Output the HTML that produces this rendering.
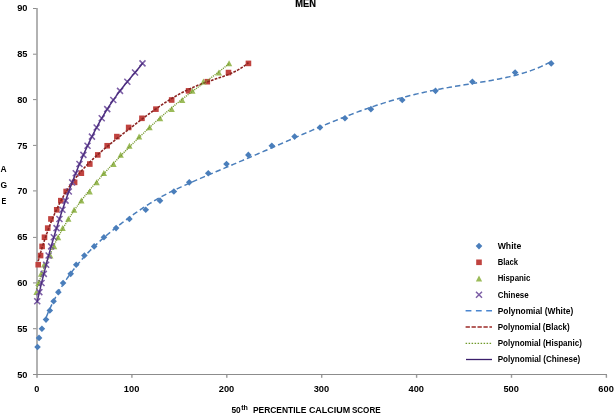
<!DOCTYPE html>
<html><head><meta charset="utf-8"><title>MEN</title>
<style>html,body{margin:0;padding:0;background:#fff}svg{display:block}text{font-family:"Liberation Sans",sans-serif;font-weight:bold;font-size:8.7px;fill:#000}</style></head><body>
<svg width="614" height="414" viewBox="0 0 614 414">
<rect width="614" height="414" fill="#fff"/>
<rect x="36" y="8" width="2" height="369.8" fill="#b2b2b2"/>
<g stroke="#8c8c8c" stroke-width="1" fill="none" shape-rendering="crispEdges">
<path d="M33,374.5 H607"/>
</g>
<rect x="33" y="328.2" width="3.5" height="1" fill="#8c8c8c"/>
<rect x="33" y="282.4" width="3.5" height="1" fill="#8c8c8c"/>
<rect x="33" y="236.9" width="3.5" height="1" fill="#8c8c8c"/>
<rect x="33" y="190.4" width="3.5" height="1" fill="#8c8c8c"/>
<rect x="33" y="144.9" width="3.5" height="1" fill="#8c8c8c"/>
<rect x="33" y="99.1" width="3.5" height="1" fill="#8c8c8c"/>
<rect x="33" y="53.7" width="3.5" height="1" fill="#8c8c8c"/>
<rect x="33" y="8.0" width="3.5" height="1" fill="#8c8c8c"/>
<rect x="131.2" y="375" width="1.4" height="2.8" fill="#9a9a9a"/>
<rect x="226.1" y="375" width="1.4" height="2.8" fill="#9a9a9a"/>
<rect x="321.0" y="375" width="1.4" height="2.8" fill="#9a9a9a"/>
<rect x="415.9" y="375" width="1.4" height="2.8" fill="#9a9a9a"/>
<rect x="510.8" y="375" width="1.4" height="2.8" fill="#9a9a9a"/>
<rect x="605.7" y="375" width="1.4" height="2.8" fill="#9a9a9a"/>
<text x="27.5" y="377.55" text-anchor="end" textLength="10.3" lengthAdjust="spacingAndGlyphs" style="font-size:9.1px">50</text>
<text x="27.5" y="331.75" text-anchor="end" textLength="10.3" lengthAdjust="spacingAndGlyphs" style="font-size:9.1px">55</text>
<text x="27.5" y="285.95" text-anchor="end" textLength="10.3" lengthAdjust="spacingAndGlyphs" style="font-size:9.1px">60</text>
<text x="27.5" y="240.15" text-anchor="end" textLength="10.3" lengthAdjust="spacingAndGlyphs" style="font-size:9.1px">65</text>
<text x="27.5" y="194.35" text-anchor="end" textLength="10.3" lengthAdjust="spacingAndGlyphs" style="font-size:9.1px">70</text>
<text x="27.5" y="148.55" text-anchor="end" textLength="10.3" lengthAdjust="spacingAndGlyphs" style="font-size:9.1px">75</text>
<text x="27.5" y="102.75" text-anchor="end" textLength="10.3" lengthAdjust="spacingAndGlyphs" style="font-size:9.1px">80</text>
<text x="27.5" y="56.95" text-anchor="end" textLength="10.3" lengthAdjust="spacingAndGlyphs" style="font-size:9.1px">85</text>
<text x="27.5" y="11.15" text-anchor="end" textLength="10.3" lengthAdjust="spacingAndGlyphs" style="font-size:9.1px">90</text>
<text x="36.7" y="391.5" text-anchor="middle" textLength="5.1" lengthAdjust="spacingAndGlyphs" style="font-size:9.2px">0</text>
<text x="131.6" y="391.5" text-anchor="middle" textLength="15.5" lengthAdjust="spacingAndGlyphs" style="font-size:9.2px">100</text>
<text x="226.5" y="391.5" text-anchor="middle" textLength="15.5" lengthAdjust="spacingAndGlyphs" style="font-size:9.2px">200</text>
<text x="321.4" y="391.5" text-anchor="middle" textLength="15.5" lengthAdjust="spacingAndGlyphs" style="font-size:9.2px">300</text>
<text x="416.3" y="391.5" text-anchor="middle" textLength="15.5" lengthAdjust="spacingAndGlyphs" style="font-size:9.2px">400</text>
<text x="511.2" y="391.5" text-anchor="middle" textLength="15.5" lengthAdjust="spacingAndGlyphs" style="font-size:9.2px">500</text>
<text x="606.1" y="391.5" text-anchor="middle" textLength="15.5" lengthAdjust="spacingAndGlyphs" style="font-size:9.2px">600</text>
<text x="295.2" y="6.9" textLength="20.7" lengthAdjust="spacingAndGlyphs" style="font-size:10.4px;stroke:#000;stroke-width:0.2px">MEN</text>
<text x="0.6" y="172.2" textLength="6.1" lengthAdjust="spacingAndGlyphs" style="font-size:9.9px">A</text>
<text x="0.6" y="187.8" textLength="6.6" lengthAdjust="spacingAndGlyphs" style="font-size:9.9px">G</text>
<text x="1.5" y="203.5" textLength="4.8" lengthAdjust="spacingAndGlyphs" style="font-size:9.9px">E</text>
<text y="413.1" style="font-size:8.6px"><tspan x="231.4" textLength="9.3" lengthAdjust="spacingAndGlyphs">50</tspan><tspan x="241.2" dy="-3" textLength="6.7" lengthAdjust="spacingAndGlyphs" style="font-size:6.3px">th</tspan><tspan x="252.9" dy="3" textLength="53.4" lengthAdjust="spacingAndGlyphs">PERCENTILE</tspan><tspan x="308.9" textLength="41.2" lengthAdjust="spacingAndGlyphs">CALCIUM</tspan><tspan x="351.9" textLength="28.7" lengthAdjust="spacingAndGlyphs">SCORE</tspan></text>
<g fill="#4a7ebb">
<path d="M37.55,343.75 L40.84,347.05 L37.55,350.35 L34.25,347.05Z"/>
<path d="M39.06,334.60 L42.36,337.90 L39.06,341.20 L35.77,337.90Z"/>
<path d="M41.91,325.45 L45.21,328.75 L41.91,332.05 L38.62,328.75Z"/>
<path d="M46.00,316.30 L49.30,319.60 L46.00,322.90 L42.70,319.60Z"/>
<path d="M49.80,307.15 L53.10,310.45 L49.80,313.75 L46.50,310.45Z"/>
<path d="M53.60,298.00 L56.90,301.30 L53.60,304.60 L50.30,301.30Z"/>
<path d="M58.35,288.85 L61.65,292.15 L58.35,295.45 L55.05,292.15Z"/>
<path d="M63.10,279.70 L66.40,283.00 L63.10,286.30 L59.80,283.00Z"/>
<path d="M70.70,270.55 L74.00,273.85 L70.70,277.15 L67.40,273.85Z"/>
<path d="M76.21,261.40 L79.51,264.70 L76.21,268.00 L72.91,264.70Z"/>
<path d="M84.38,252.25 L87.68,255.55 L84.38,258.85 L81.08,255.55Z"/>
<path d="M94.16,243.10 L97.46,246.40 L94.16,249.70 L90.86,246.40Z"/>
<path d="M103.95,233.95 L107.25,237.25 L103.95,240.55 L100.65,237.25Z"/>
<path d="M116.11,224.80 L119.41,228.10 L116.11,231.40 L112.81,228.10Z"/>
<path d="M129.41,215.65 L132.71,218.95 L129.41,222.25 L126.11,218.95Z"/>
<path d="M145.75,206.50 L149.05,209.80 L145.75,213.10 L142.45,209.80Z"/>
<path d="M160.00,197.35 L163.30,200.65 L160.00,203.95 L156.70,200.65Z"/>
<path d="M173.87,188.20 L177.17,191.50 L173.87,194.80 L170.57,191.50Z"/>
<path d="M189.26,179.05 L192.56,182.35 L189.26,185.65 L185.96,182.35Z"/>
<path d="M208.26,169.90 L211.56,173.20 L208.26,176.50 L204.96,173.20Z"/>
<path d="M226.50,160.75 L229.80,164.05 L226.50,167.35 L223.20,164.05Z"/>
<path d="M248.35,151.60 L251.65,154.90 L248.35,158.20 L245.05,154.90Z"/>
<path d="M271.81,142.45 L275.11,145.75 L271.81,149.05 L268.51,145.75Z"/>
<path d="M294.61,133.30 L297.91,136.60 L294.61,139.90 L291.31,136.60Z"/>
<path d="M319.98,124.15 L323.28,127.45 L319.98,130.75 L316.68,127.45Z"/>
<path d="M344.96,115.00 L348.26,118.30 L344.96,121.60 L341.66,118.30Z"/>
<path d="M370.90,105.85 L374.20,109.15 L370.90,112.45 L367.60,109.15Z"/>
<path d="M402.25,96.70 L405.55,100.00 L402.25,103.30 L398.95,100.00Z"/>
<path d="M435.50,87.55 L438.80,90.85 L435.50,94.15 L432.20,90.85Z"/>
<path d="M472.36,78.40 L475.66,81.70 L472.36,85.00 L469.06,81.70Z"/>
<path d="M515.11,69.25 L518.41,72.55 L515.11,75.85 L511.81,72.55Z"/>
<path d="M551.21,60.10 L554.51,63.40 L551.21,66.70 L547.91,63.40Z"/>
</g>
<g fill="#c0433f">
<rect x="35.41" y="261.90" width="5.6" height="5.6"/>
<rect x="37.79" y="252.75" width="5.6" height="5.6"/>
<rect x="39.31" y="243.60" width="5.6" height="5.6"/>
<rect x="41.68" y="234.45" width="5.6" height="5.6"/>
<rect x="44.91" y="225.30" width="5.6" height="5.6"/>
<rect x="48.14" y="216.15" width="5.6" height="5.6"/>
<rect x="53.94" y="207.00" width="5.6" height="5.6"/>
<rect x="58.02" y="197.85" width="5.6" height="5.6"/>
<rect x="63.34" y="188.70" width="5.6" height="5.6"/>
<rect x="71.80" y="179.55" width="5.6" height="5.6"/>
<rect x="78.54" y="170.40" width="5.6" height="5.6"/>
<rect x="87.00" y="161.25" width="5.6" height="5.6"/>
<rect x="94.98" y="152.10" width="5.6" height="5.6"/>
<rect x="104.38" y="142.95" width="5.6" height="5.6"/>
<rect x="114.07" y="133.80" width="5.6" height="5.6"/>
<rect x="125.85" y="124.65" width="5.6" height="5.6"/>
<rect x="139.15" y="115.50" width="5.6" height="5.6"/>
<rect x="153.11" y="106.35" width="5.6" height="5.6"/>
<rect x="168.88" y="97.20" width="5.6" height="5.6"/>
<rect x="185.79" y="88.05" width="5.6" height="5.6"/>
<rect x="204.51" y="78.90" width="5.6" height="5.6"/>
<rect x="225.69" y="69.75" width="5.6" height="5.6"/>
<rect x="245.64" y="60.60" width="5.6" height="5.6"/>
</g>
<g fill="#9bbb59">
<path d="M36.50,289.05 L39.65,295.05 L33.35,295.05Z"/>
<path d="M38.40,279.90 L41.55,285.90 L35.25,285.90Z"/>
<path d="M41.06,270.75 L44.21,276.75 L37.91,276.75Z"/>
<path d="M44.10,261.60 L47.25,267.60 L40.95,267.60Z"/>
<path d="M50.27,252.45 L53.42,258.45 L47.12,258.45Z"/>
<path d="M54.17,243.30 L57.32,249.30 L51.02,249.30Z"/>
<path d="M58.06,234.15 L61.21,240.15 L54.91,240.15Z"/>
<path d="M62.62,225.00 L65.78,231.00 L59.48,231.00Z"/>
<path d="M68.33,215.85 L71.48,221.85 L65.17,221.85Z"/>
<path d="M74.12,206.70 L77.27,212.70 L70.97,212.70Z"/>
<path d="M81.34,197.55 L84.49,203.55 L78.19,203.55Z"/>
<path d="M89.70,188.40 L92.85,194.40 L86.55,194.40Z"/>
<path d="M96.63,179.25 L99.78,185.25 L93.48,185.25Z"/>
<path d="M103.86,170.10 L107.01,176.10 L100.70,176.10Z"/>
<path d="M113.54,160.95 L116.69,166.95 L110.39,166.95Z"/>
<path d="M120.67,151.80 L123.82,157.80 L117.52,157.80Z"/>
<path d="M129.41,142.65 L132.56,148.65 L126.26,148.65Z"/>
<path d="M139.10,133.50 L142.25,139.50 L135.95,139.50Z"/>
<path d="M149.55,124.35 L152.70,130.35 L146.40,130.35Z"/>
<path d="M160.09,115.20 L163.24,121.20 L156.94,121.20Z"/>
<path d="M171.69,106.05 L174.84,112.05 L168.53,112.05Z"/>
<path d="M182.23,96.90 L185.38,102.90 L179.08,102.90Z"/>
<path d="M192.39,87.75 L195.54,93.75 L189.24,93.75Z"/>
<path d="M203.41,78.60 L206.56,84.60 L200.26,84.60Z"/>
<path d="M218.90,69.45 L222.05,75.45 L215.75,75.45Z"/>
<path d="M229.06,60.30 L232.21,66.30 L225.91,66.30Z"/>
</g>
<g stroke="#7d5fa6" stroke-width="1.5" fill="none">
<path d="M34.25,298.30 L40.25,304.30 M34.25,304.30 L40.25,298.30"/>
<path d="M36.34,289.15 L42.34,295.15 M36.34,295.15 L42.34,289.15"/>
<path d="M38.52,280.00 L44.52,286.00 M38.52,286.00 L44.52,280.00"/>
<path d="M40.80,270.85 L46.80,276.85 M40.80,276.85 L46.80,270.85"/>
<path d="M43.15,261.70 L49.15,267.70 M43.15,267.70 L49.15,261.70"/>
<path d="M45.63,252.55 L51.63,258.55 M45.63,258.55 L51.63,252.55"/>
<path d="M48.17,243.40 L54.17,249.40 M48.17,249.40 L54.17,243.40"/>
<path d="M50.81,234.25 L56.81,240.25 M50.81,240.25 L56.81,234.25"/>
<path d="M53.58,225.10 L59.58,231.10 M53.58,231.10 L59.58,225.10"/>
<path d="M56.45,215.95 L62.45,221.95 M56.45,221.95 L62.45,215.95"/>
<path d="M59.43,206.80 L65.43,212.80 M59.43,212.80 L65.43,206.80"/>
<path d="M62.56,197.65 L68.56,203.65 M62.56,203.65 L68.56,197.65"/>
<path d="M65.82,188.50 L71.82,194.50 M65.82,194.50 L71.82,188.50"/>
<path d="M69.19,179.35 L75.19,185.35 M69.19,185.35 L75.19,179.35"/>
<path d="M72.76,170.20 L78.76,176.20 M72.76,176.20 L78.76,170.20"/>
<path d="M76.47,161.05 L82.47,167.05 M76.47,167.05 L82.47,161.05"/>
<path d="M80.41,151.90 L86.41,157.90 M80.41,157.90 L86.41,151.90"/>
<path d="M84.53,142.75 L90.53,148.75 M84.53,148.75 L90.53,142.75"/>
<path d="M88.94,133.60 L94.94,139.60 M88.94,139.60 L94.94,133.60"/>
<path d="M93.65,124.45 L99.65,130.45 M93.65,130.45 L99.65,124.45"/>
<path d="M98.73,115.30 L104.73,121.30 M98.73,121.30 L104.73,115.30"/>
<path d="M104.25,106.15 L110.25,112.15 M104.25,112.15 L110.25,106.15"/>
<path d="M110.30,97.00 L116.30,103.00 M110.30,103.00 L116.30,97.00"/>
<path d="M117.02,87.85 L123.02,93.85 M117.02,93.85 L123.02,87.85"/>
<path d="M124.33,78.70 L130.33,84.70 M124.33,84.70 L130.33,78.70"/>
<path d="M132.03,69.55 L138.03,75.55 M132.03,75.55 L138.03,69.55"/>
<path d="M139.50,60.40 L145.50,66.40 M139.50,66.40 L145.50,60.40"/>
</g>
<path d="M46.26,317.14 L46.53,316.47 L46.81,315.80 L47.08,315.12 L47.37,314.44 L47.65,313.76 L47.94,313.08 L48.24,312.40 L48.54,311.71 L48.84,311.02 L49.15,310.33 L49.46,309.63 L49.78,308.94 L50.10,308.24 L50.42,307.54 L50.75,306.84 L51.08,306.14 L51.42,305.43 L51.76,304.73 L52.10,304.02 L52.45,303.31 L52.80,302.60 L53.16,301.89 L53.52,301.18 L53.89,300.47 L54.25,299.76 L54.63,299.04 L55.01,298.33 L55.39,297.61 L55.77,296.90 L56.16,296.18 L56.56,295.46 L56.95,294.74 L57.36,294.02 L57.76,293.30 L58.17,292.58 L58.59,291.86 L59.01,291.14 L59.43,290.42 L59.86,289.70 L60.29,288.98 L60.72,288.26 L61.16,287.54 L61.61,286.82 L62.05,286.10 L62.51,285.38 L62.96,284.66 L63.42,283.93 L63.89,283.21 L64.35,282.49 L64.83,281.78 L65.30,281.06 L65.78,280.34 L66.27,279.62 L66.76,278.90 L67.25,278.18 L67.75,277.47 L68.25,276.75 L68.75,276.04 L69.26,275.32 L69.78,274.61 L70.30,273.89 L70.82,273.18 L71.34,272.47 L71.87,271.76 L72.41,271.05 L72.95,270.34 L73.49,269.63 L74.04,268.92 L74.59,268.22 L75.14,267.51 L75.70,266.81 L76.26,266.11 L76.83,265.41 L77.40,264.70 L77.98,264.01 L78.56,263.31 L79.14,262.61 L79.73,261.91 L80.32,261.22 L80.92,260.53 L81.52,259.84 L82.12,259.15 L82.73,258.46 L83.34,257.77 L83.96,257.08 L84.58,256.40 L85.21,255.71 L85.84,255.03 L86.47,254.35 L87.11,253.67 L87.75,252.99 L88.39,252.32 L89.04,251.64 L89.70,250.97 L90.36,250.30 L91.02,249.63 L91.68,248.96 L92.35,248.29 L93.03,247.63 L93.71,246.96 L94.39,246.30 L95.08,245.64 L95.77,244.98 L96.46,244.33 L97.16,243.67 L97.87,243.02 L98.57,242.36 L99.29,241.71 L100.00,241.07 L100.72,240.42 L101.45,239.77 L102.17,239.13 L102.91,238.49 L103.64,237.85 L104.38,237.21 L105.13,236.57 L105.88,235.93 L106.63,235.29 L107.39,234.65 L108.15,234.01 L108.91,233.37 L109.68,232.74 L110.46,232.10 L111.23,231.46 L112.02,230.82 L112.80,230.18 L113.59,229.55 L114.39,228.91 L115.18,228.27 L115.99,227.63 L116.79,226.99 L117.60,226.35 L118.42,225.71 L119.24,225.07 L120.06,224.43 L120.89,223.79 L121.72,223.15 L122.56,222.51 L123.39,221.87 L124.24,221.23 L125.09,220.59 L125.94,219.95 L126.79,219.32 L127.65,218.68 L128.52,218.04 L129.39,217.40 L130.26,216.76 L131.14,216.12 L132.02,215.49 L132.90,214.85 L133.79,214.22 L134.69,213.58 L135.58,212.95 L136.48,212.32 L137.39,211.69 L138.30,211.06 L139.21,210.43 L140.13,209.81 L141.05,209.19 L141.98,208.57 L142.91,207.95 L143.84,207.33 L144.78,206.72 L145.73,206.10 L146.67,205.50 L147.62,204.89 L148.58,204.29 L149.54,203.69 L150.50,203.09 L151.47,202.49 L152.44,201.90 L153.42,201.32 L154.40,200.73 L155.38,200.15 L156.37,199.58 L157.36,199.00 L158.36,198.43 L159.36,197.87 L160.36,197.31 L161.37,196.75 L162.38,196.20 L163.40,195.65 L164.42,195.10 L165.45,194.56 L166.48,194.02 L167.51,193.48 L168.55,192.95 L169.59,192.43 L170.64,191.90 L171.69,191.38 L172.74,190.87 L173.80,190.35 L174.86,189.84 L175.93,189.34 L177.00,188.83 L178.07,188.33 L179.15,187.83 L180.23,187.33 L181.32,186.83 L182.41,186.34 L183.51,185.84 L184.61,185.34 L185.71,184.84 L186.82,184.35 L187.93,183.85 L189.05,183.36 L190.17,182.86 L191.29,182.36 L192.42,181.87 L193.55,181.37 L194.69,180.87 L195.83,180.37 L196.97,179.87 L198.12,179.38 L199.28,178.88 L200.43,178.38 L201.60,177.88 L202.76,177.37 L203.93,176.87 L205.10,176.37 L206.28,175.86 L207.46,175.36 L208.65,174.85 L209.84,174.34 L211.04,173.84 L212.23,173.33 L213.44,172.81 L214.64,172.30 L215.85,171.79 L217.07,171.27 L218.29,170.75 L219.51,170.24 L220.74,169.71 L221.97,169.19 L223.21,168.67 L224.45,168.14 L225.69,167.62 L226.94,167.09 L228.19,166.55 L229.45,166.02 L230.71,165.49 L231.97,164.95 L233.24,164.41 L234.51,163.87 L235.79,163.32 L237.07,162.78 L238.36,162.23 L239.65,161.68 L240.94,161.13 L242.24,160.57 L243.54,160.02 L244.84,159.46 L246.15,158.90 L247.47,158.33 L248.79,157.77 L250.11,157.20 L251.44,156.63 L252.77,156.06 L254.10,155.48 L255.44,154.90 L256.78,154.32 L258.13,153.74 L259.48,153.16 L260.84,152.57 L262.20,151.98 L263.56,151.39 L264.93,150.80 L266.30,150.20 L267.67,149.60 L269.05,149.00 L270.44,148.40 L271.83,147.79 L273.22,147.19 L274.62,146.58 L276.02,145.97 L277.42,145.35 L278.83,144.74 L280.24,144.12 L281.66,143.50 L283.08,142.88 L284.51,142.26 L285.94,141.63 L287.37,141.01 L288.81,140.38 L290.25,139.75 L291.70,139.12 L293.15,138.49 L294.60,137.86 L296.06,137.22 L297.52,136.59 L298.99,135.95 L300.46,135.31 L301.93,134.67 L303.41,134.03 L304.90,133.39 L306.38,132.75 L307.88,132.11 L309.37,131.47 L310.87,130.83 L312.38,130.18 L313.88,129.54 L315.40,128.90 L316.91,128.25 L318.43,127.61 L319.96,126.97 L321.49,126.32 L323.02,125.68 L324.55,125.04 L326.10,124.40 L327.64,123.76 L329.19,123.12 L330.74,122.48 L332.30,121.85 L333.86,121.21 L335.43,120.58 L337.00,119.95 L338.57,119.31 L340.15,118.69 L341.73,118.06 L343.32,117.43 L344.91,116.81 L346.50,116.19 L348.10,115.57 L349.71,114.96 L351.31,114.34 L352.92,113.73 L354.54,113.13 L356.16,112.52 L357.78,111.92 L359.41,111.33 L361.04,110.73 L362.68,110.14 L364.32,109.56 L365.96,108.98 L367.61,108.40 L369.26,107.82 L370.92,107.25 L372.58,106.69 L374.24,106.13 L375.91,105.57 L377.59,105.02 L379.26,104.47 L380.94,103.93 L382.63,103.40 L384.32,102.87 L386.01,102.34 L387.71,101.82 L389.41,101.30 L391.12,100.80 L392.83,100.29 L394.54,99.79 L396.26,99.30 L397.98,98.82 L399.71,98.34 L401.44,97.86 L403.18,97.39 L404.92,96.93 L406.66,96.47 L408.41,96.02 L410.16,95.58 L411.91,95.14 L413.67,94.71 L415.44,94.29 L417.20,93.87 L418.98,93.45 L420.75,93.05 L422.53,92.65 L424.32,92.25 L426.11,91.86 L427.90,91.48 L429.69,91.10 L431.50,90.73 L433.30,90.36 L435.11,90.00 L436.92,89.65 L438.74,89.30 L440.56,88.95 L442.39,88.61 L444.22,88.27 L446.05,87.94 L447.89,87.62 L449.73,87.29 L451.58,86.97 L453.43,86.66 L455.28,86.34 L457.14,86.03 L459.00,85.72 L460.87,85.42 L462.74,85.11 L464.62,84.81 L466.50,84.50 L468.38,84.20 L470.27,83.90 L472.16,83.60 L474.06,83.29 L475.96,82.99 L477.86,82.68 L479.77,82.37 L481.68,82.05 L483.60,81.73 L485.52,81.41 L487.44,81.08 L489.37,80.75 L491.30,80.41 L493.24,80.06 L495.18,79.70 L497.13,79.33 L499.08,78.95 L501.03,78.56 L502.99,78.16 L504.95,77.74 L506.92,77.31 L508.89,76.87 L510.86,76.41 L512.84,75.93 L514.82,75.43 L516.81,74.91 L518.80,74.37 L520.79,73.80 L522.79,73.22 L524.79,72.60 L526.80,71.96 L528.81,71.29 L530.83,70.59 L532.85,69.86 L534.87,69.10 L536.90,68.30 L538.93,67.46 L540.97,66.58 L543.01,65.66 L545.05,64.70 L547.10,63.70 L549.15,62.65 L551.21,61.55" fill="none" stroke="#4a7ebb" stroke-width="1.5" stroke-dasharray="5.4 3.1"/>
<path d="M38.21,260.97 L38.21,260.97 L38.21,260.96 L38.22,260.95 L38.22,260.93 L38.23,260.90 L38.24,260.86 L38.25,260.83 L38.26,260.78 L38.28,260.73 L38.29,260.67 L38.31,260.61 L38.33,260.54 L38.35,260.46 L38.38,260.38 L38.40,260.29 L38.43,260.19 L38.45,260.09 L38.48,259.99 L38.51,259.88 L38.55,259.76 L38.58,259.63 L38.62,259.50 L38.66,259.37 L38.70,259.22 L38.74,259.08 L38.78,258.92 L38.83,258.76 L38.87,258.60 L38.92,258.43 L38.97,258.25 L39.02,258.07 L39.07,257.88 L39.13,257.69 L39.19,257.49 L39.24,257.28 L39.30,257.07 L39.37,256.86 L39.43,256.63 L39.49,256.41 L39.56,256.17 L39.63,255.94 L39.70,255.69 L39.77,255.44 L39.84,255.19 L39.92,254.93 L40.00,254.67 L40.08,254.40 L40.16,254.12 L40.24,253.84 L40.32,253.56 L40.41,253.27 L40.49,252.97 L40.58,252.67 L40.67,252.37 L40.76,252.06 L40.86,251.74 L40.95,251.42 L41.05,251.10 L41.15,250.77 L41.25,250.43 L41.35,250.10 L41.46,249.75 L41.56,249.41 L41.67,249.05 L41.78,248.70 L41.89,248.34 L42.00,247.97 L42.11,247.60 L42.23,247.23 L42.35,246.85 L42.47,246.47 L42.59,246.09 L42.71,245.70 L42.83,245.30 L42.96,244.91 L43.09,244.50 L43.22,244.10 L43.35,243.69 L43.48,243.28 L43.61,242.86 L43.75,242.44 L43.89,242.02 L44.03,241.59 L44.17,241.16 L44.31,240.73 L44.45,240.29 L44.60,239.85 L44.75,239.41 L44.90,238.96 L45.05,238.52 L45.20,238.06 L45.36,237.61 L45.51,237.15 L45.67,236.69 L45.83,236.23 L45.99,235.76 L46.15,235.29 L46.32,234.82 L46.49,234.35 L46.65,233.87 L46.82,233.39 L46.99,232.91 L47.17,232.43 L47.34,231.94 L47.52,231.45 L47.70,230.96 L47.88,230.47 L48.06,229.98 L48.24,229.48 L48.43,228.98 L48.61,228.48 L48.80,227.98 L48.99,227.48 L49.18,226.97 L49.38,226.47 L49.57,225.96 L49.77,225.45 L49.97,224.94 L50.17,224.43 L50.37,223.91 L50.57,223.40 L50.78,222.88 L50.98,222.37 L51.19,221.85 L51.40,221.33 L51.61,220.81 L51.83,220.29 L52.04,219.77 L52.26,219.24 L52.48,218.72 L52.70,218.20 L52.92,217.67 L53.15,217.15 L53.37,216.62 L53.60,216.09 L53.83,215.57 L54.06,215.04 L54.29,214.51 L54.52,213.99 L54.76,213.46 L55.00,212.93 L55.23,212.40 L55.48,211.87 L55.72,211.35 L55.96,210.82 L56.21,210.29 L56.45,209.76 L56.70,209.23 L56.95,208.70 L57.21,208.18 L57.46,207.65 L57.72,207.12 L57.97,206.60 L58.23,206.07 L58.49,205.54 L58.76,205.02 L59.02,204.50 L59.29,203.97 L59.56,203.45 L59.82,202.92 L60.10,202.40 L60.37,201.88 L60.64,201.36 L60.92,200.84 L61.20,200.32 L61.48,199.80 L61.76,199.29 L62.04,198.77 L62.32,198.25 L62.61,197.74 L62.90,197.23 L63.19,196.71 L63.48,196.20 L63.77,195.69 L64.07,195.18 L64.36,194.67 L64.66,194.17 L64.96,193.66 L65.26,193.16 L65.57,192.65 L65.87,192.15 L66.18,191.65 L66.49,191.15 L66.80,190.65 L67.11,190.16 L67.42,189.66 L67.73,189.17 L68.05,188.68 L68.37,188.19 L68.69,187.70 L69.01,187.21 L69.33,186.72 L69.66,186.23 L69.99,185.75 L70.32,185.27 L70.65,184.79 L70.98,184.31 L71.31,183.83 L71.65,183.35 L71.98,182.88 L72.32,182.41 L72.66,181.93 L73.00,181.46 L73.35,180.99 L73.69,180.53 L74.04,180.06 L74.39,179.60 L74.74,179.13 L75.09,178.67 L75.44,178.21 L75.80,177.75 L76.16,177.30 L76.52,176.84 L76.88,176.39 L77.24,175.94 L77.60,175.48 L77.97,175.04 L78.34,174.59 L78.70,174.14 L79.07,173.70 L79.45,173.25 L79.82,172.81 L80.20,172.37 L80.57,171.93 L80.95,171.49 L81.33,171.06 L81.72,170.62 L82.10,170.19 L82.49,169.75 L82.87,169.32 L83.26,168.89 L83.65,168.46 L84.05,168.04 L84.44,167.61 L84.84,167.18 L85.23,166.76 L85.63,166.34 L86.04,165.91 L86.44,165.49 L86.84,165.07 L87.25,164.66 L87.66,164.24 L88.07,163.82 L88.48,163.41 L88.89,162.99 L89.30,162.58 L89.72,162.17 L90.14,161.75 L90.56,161.34 L90.98,160.93 L91.40,160.52 L91.83,160.11 L92.25,159.71 L92.68,159.30 L93.11,158.89 L93.54,158.49 L93.98,158.08 L94.41,157.68 L94.85,157.27 L95.29,156.87 L95.73,156.47 L96.17,156.06 L96.61,155.66 L97.06,155.26 L97.50,154.86 L97.95,154.46 L98.40,154.06 L98.85,153.66 L99.31,153.26 L99.76,152.86 L100.22,152.46 L100.68,152.06 L101.14,151.66 L101.60,151.26 L102.06,150.86 L102.53,150.46 L102.99,150.06 L103.46,149.66 L103.93,149.26 L104.40,148.86 L104.88,148.46 L105.35,148.06 L105.83,147.66 L106.31,147.26 L106.79,146.86 L107.27,146.45 L107.76,146.05 L108.24,145.65 L108.73,145.25 L109.22,144.85 L109.71,144.44 L110.20,144.04 L110.69,143.64 L111.19,143.23 L111.69,142.83 L112.19,142.42 L112.69,142.02 L113.19,141.61 L113.69,141.20 L114.20,140.79 L114.71,140.38 L115.21,139.98 L115.73,139.57 L116.24,139.15 L116.75,138.74 L117.27,138.33 L117.79,137.92 L118.30,137.50 L118.83,137.09 L119.35,136.67 L119.87,136.26 L120.40,135.84 L120.93,135.42 L121.46,135.00 L121.99,134.59 L122.52,134.16 L123.05,133.74 L123.59,133.32 L124.13,132.90 L124.67,132.47 L125.21,132.05 L125.75,131.62 L126.30,131.20 L126.84,130.77 L127.39,130.34 L127.94,129.91 L128.49,129.48 L129.04,129.05 L129.60,128.62 L130.16,128.18 L130.71,127.75 L131.27,127.32 L131.84,126.88 L132.40,126.44 L132.96,126.01 L133.53,125.57 L134.10,125.13 L134.67,124.69 L135.24,124.25 L135.81,123.81 L136.39,123.37 L136.96,122.93 L137.54,122.48 L138.12,122.04 L138.70,121.60 L139.29,121.15 L139.87,120.71 L140.46,120.26 L141.05,119.81 L141.64,119.37 L142.23,118.92 L142.82,118.47 L143.42,118.02 L144.02,117.58 L144.61,117.13 L145.21,116.68 L145.82,116.23 L146.42,115.78 L147.03,115.33 L147.63,114.88 L148.24,114.43 L148.85,113.99 L149.46,113.54 L150.08,113.09 L150.69,112.64 L151.31,112.19 L151.93,111.74 L152.55,111.30 L153.17,110.85 L153.80,110.40 L154.42,109.96 L155.05,109.51 L155.68,109.07 L156.31,108.62 L156.94,108.18 L157.58,107.74 L158.21,107.29 L158.85,106.85 L159.49,106.41 L160.13,105.98 L160.77,105.54 L161.42,105.10 L162.06,104.67 L162.71,104.23 L163.36,103.80 L164.01,103.37 L164.66,102.94 L165.32,102.51 L165.97,102.09 L166.63,101.66 L167.29,101.24 L167.95,100.82 L168.61,100.40 L169.28,99.99 L169.94,99.57 L170.61,99.16 L171.28,98.75 L171.95,98.34 L172.63,97.94 L173.30,97.54 L173.98,97.14 L174.65,96.74 L175.33,96.34 L176.02,95.95 L176.70,95.56 L177.38,95.17 L178.07,94.79 L178.76,94.41 L179.45,94.03 L180.14,93.65 L180.83,93.28 L181.53,92.91 L182.22,92.54 L182.92,92.18 L183.62,91.82 L184.32,91.46 L185.03,91.11 L185.73,90.76 L186.44,90.41 L187.15,90.06 L187.86,89.72 L188.57,89.39 L189.28,89.05 L190.00,88.72 L190.71,88.39 L191.43,88.07 L192.15,87.75 L192.87,87.43 L193.60,87.11 L194.32,86.80 L195.05,86.50 L195.78,86.19 L196.51,85.89 L197.24,85.59 L197.98,85.30 L198.71,85.00 L199.45,84.71 L200.19,84.43 L200.93,84.14 L201.67,83.86 L202.41,83.58 L203.16,83.31 L203.91,83.03 L204.65,82.76 L205.41,82.49 L206.16,82.22 L206.91,81.96 L207.67,81.69 L208.42,81.43 L209.18,81.17 L209.94,80.91 L210.71,80.65 L211.47,80.39 L212.24,80.14 L213.00,79.88 L213.77,79.62 L214.54,79.36 L215.32,79.11 L216.09,78.85 L216.87,78.59 L217.64,78.33 L218.42,78.06 L219.20,77.80 L219.99,77.53 L220.77,77.26 L221.56,76.99 L222.35,76.71 L223.14,76.43 L223.93,76.15 L224.72,75.86 L225.51,75.56 L226.31,75.26 L227.11,74.96 L227.91,74.64 L228.71,74.32 L229.51,73.99 L230.32,73.65 L231.12,73.31 L231.93,72.95 L232.74,72.58 L233.55,72.21 L234.36,71.82 L235.18,71.42 L236.00,71.00 L236.81,70.57 L237.63,70.13 L238.46,69.67 L239.28,69.19 L240.10,68.70 L240.93,68.19 L241.76,67.66 L242.59,67.11 L243.42,66.54 L244.25,65.94 L245.09,65.33 L245.92,64.69 L246.76,64.02 L247.60,63.33 L248.44,62.61" fill="none" stroke="#8b2321" stroke-width="1.6" stroke-dasharray="2.7 1.3"/>
<path d="M36.50,289.11 L36.50,289.11 L36.50,289.10 L36.51,289.09 L36.51,289.07 L36.52,289.05 L36.53,289.03 L36.54,289.00 L36.55,288.96 L36.56,288.92 L36.58,288.88 L36.59,288.83 L36.61,288.78 L36.63,288.72 L36.65,288.66 L36.67,288.59 L36.70,288.52 L36.72,288.44 L36.75,288.36 L36.78,288.27 L36.81,288.18 L36.84,288.09 L36.87,287.99 L36.91,287.88 L36.95,287.77 L36.98,287.66 L37.02,287.54 L37.06,287.42 L37.11,287.29 L37.15,287.16 L37.20,287.03 L37.24,286.89 L37.29,286.74 L37.34,286.59 L37.39,286.44 L37.45,286.28 L37.50,286.12 L37.56,285.95 L37.62,285.78 L37.68,285.60 L37.74,285.43 L37.80,285.24 L37.86,285.05 L37.93,284.86 L38.00,284.66 L38.07,284.46 L38.14,284.26 L38.21,284.05 L38.28,283.84 L38.36,283.62 L38.43,283.40 L38.51,283.17 L38.59,282.94 L38.67,282.71 L38.76,282.47 L38.84,282.23 L38.93,281.98 L39.01,281.73 L39.10,281.48 L39.19,281.22 L39.28,280.96 L39.38,280.69 L39.47,280.43 L39.57,280.15 L39.67,279.88 L39.77,279.60 L39.87,279.31 L39.97,279.02 L40.08,278.73 L40.18,278.44 L40.29,278.14 L40.40,277.84 L40.51,277.53 L40.62,277.22 L40.73,276.91 L40.85,276.59 L40.97,276.27 L41.09,275.95 L41.21,275.63 L41.33,275.30 L41.45,274.96 L41.57,274.63 L41.70,274.29 L41.83,273.95 L41.96,273.60 L42.09,273.25 L42.22,272.90 L42.35,272.54 L42.49,272.19 L42.63,271.83 L42.76,271.46 L42.90,271.10 L43.05,270.73 L43.19,270.35 L43.33,269.98 L43.48,269.60 L43.63,269.22 L43.78,268.83 L43.93,268.45 L44.08,268.06 L44.23,267.67 L44.39,267.27 L44.55,266.88 L44.70,266.48 L44.86,266.08 L45.03,265.67 L45.19,265.26 L45.35,264.86 L45.52,264.44 L45.69,264.03 L45.86,263.61 L46.03,263.20 L46.20,262.78 L46.37,262.35 L46.55,261.93 L46.73,261.50 L46.91,261.07 L47.09,260.64 L47.27,260.21 L47.45,259.77 L47.64,259.33 L47.82,258.90 L48.01,258.46 L48.20,258.01 L48.39,257.57 L48.58,257.12 L48.78,256.67 L48.97,256.22 L49.17,255.77 L49.37,255.32 L49.57,254.86 L49.77,254.41 L49.97,253.95 L50.18,253.49 L50.39,253.03 L50.59,252.57 L50.80,252.11 L51.02,251.64 L51.23,251.17 L51.44,250.71 L51.66,250.24 L51.87,249.77 L52.09,249.30 L52.31,248.82 L52.54,248.35 L52.76,247.87 L52.98,247.40 L53.21,246.92 L53.44,246.44 L53.67,245.96 L53.90,245.48 L54.13,245.00 L54.37,244.52 L54.60,244.04 L54.84,243.55 L55.08,243.07 L55.32,242.58 L55.56,242.10 L55.81,241.61 L56.05,241.12 L56.30,240.64 L56.55,240.15 L56.80,239.66 L57.05,239.17 L57.30,238.68 L57.55,238.18 L57.81,237.69 L58.07,237.20 L58.33,236.71 L58.59,236.21 L58.85,235.72 L59.11,235.22 L59.38,234.73 L59.65,234.23 L59.91,233.74 L60.18,233.24 L60.46,232.75 L60.73,232.25 L61.00,231.75 L61.28,231.26 L61.56,230.76 L61.84,230.26 L62.12,229.76 L62.40,229.26 L62.68,228.77 L62.97,228.27 L63.25,227.77 L63.54,227.27 L63.83,226.77 L64.12,226.27 L64.42,225.77 L64.71,225.27 L65.01,224.77 L65.31,224.27 L65.61,223.78 L65.91,223.28 L66.21,222.78 L66.51,222.28 L66.82,221.78 L67.13,221.28 L67.43,220.78 L67.74,220.28 L68.06,219.78 L68.37,219.28 L68.68,218.78 L69.00,218.28 L69.32,217.79 L69.64,217.29 L69.96,216.79 L70.28,216.29 L70.60,215.79 L70.93,215.29 L71.26,214.80 L71.59,214.30 L71.92,213.80 L72.25,213.30 L72.58,212.80 L72.92,212.31 L73.25,211.81 L73.59,211.31 L73.93,210.82 L74.27,210.32 L74.61,209.82 L74.96,209.33 L75.30,208.83 L75.65,208.33 L76.00,207.84 L76.35,207.34 L76.70,206.85 L77.06,206.35 L77.41,205.86 L77.77,205.36 L78.12,204.87 L78.48,204.37 L78.85,203.88 L79.21,203.38 L79.57,202.89 L79.94,202.40 L80.31,201.90 L80.67,201.41 L81.04,200.91 L81.42,200.42 L81.79,199.93 L82.17,199.43 L82.54,198.94 L82.92,198.45 L83.30,197.96 L83.68,197.46 L84.06,196.97 L84.45,196.48 L84.83,195.98 L85.22,195.49 L85.61,195.00 L86.00,194.51 L86.39,194.01 L86.79,193.52 L87.18,193.03 L87.58,192.54 L87.98,192.04 L88.38,191.55 L88.78,191.06 L89.18,190.57 L89.59,190.07 L89.99,189.58 L90.40,189.09 L90.81,188.59 L91.22,188.10 L91.63,187.61 L92.05,187.12 L92.46,186.62 L92.88,186.13 L93.30,185.63 L93.72,185.14 L94.14,184.65 L94.56,184.15 L94.98,183.66 L95.41,183.16 L95.84,182.67 L96.27,182.17 L96.70,181.68 L97.13,181.18 L97.56,180.69 L98.00,180.19 L98.44,179.69 L98.88,179.20 L99.32,178.70 L99.76,178.20 L100.20,177.70 L100.64,177.20 L101.09,176.70 L101.54,176.21 L101.99,175.71 L102.44,175.21 L102.89,174.70 L103.35,174.20 L103.80,173.70 L104.26,173.20 L104.72,172.70 L105.18,172.19 L105.64,171.69 L106.10,171.19 L106.57,170.68 L107.03,170.18 L107.50,169.67 L107.97,169.17 L108.44,168.66 L108.91,168.15 L109.39,167.64 L109.86,167.13 L110.34,166.63 L110.82,166.12 L111.30,165.60 L111.78,165.09 L112.26,164.58 L112.75,164.07 L113.24,163.56 L113.72,163.04 L114.21,162.53 L114.70,162.01 L115.20,161.50 L115.69,160.98 L116.19,160.46 L116.68,159.94 L117.18,159.43 L117.68,158.91 L118.19,158.39 L118.69,157.86 L119.19,157.34 L119.70,156.82 L120.21,156.30 L120.72,155.77 L121.23,155.25 L121.74,154.72 L122.26,154.20 L122.77,153.67 L123.29,153.14 L123.81,152.61 L124.33,152.08 L124.85,151.55 L125.37,151.02 L125.90,150.49 L126.43,149.96 L126.95,149.43 L127.48,148.89 L128.02,148.36 L128.55,147.82 L129.08,147.29 L129.62,146.75 L130.16,146.21 L130.69,145.68 L131.24,145.14 L131.78,144.60 L132.32,144.06 L132.87,143.52 L133.41,142.98 L133.96,142.43 L134.51,141.89 L135.06,141.35 L135.62,140.80 L136.17,140.26 L136.73,139.72 L137.28,139.17 L137.84,138.62 L138.40,138.08 L138.97,137.53 L139.53,136.98 L140.09,136.43 L140.66,135.89 L141.23,135.34 L141.80,134.79 L142.37,134.24 L142.94,133.69 L143.52,133.14 L144.10,132.59 L144.67,132.04 L145.25,131.48 L145.83,130.93 L146.42,130.38 L147.00,129.83 L147.58,129.28 L148.17,128.72 L148.76,128.17 L149.35,127.62 L149.94,127.06 L150.54,126.51 L151.13,125.96 L151.73,125.40 L152.32,124.85 L152.92,124.30 L153.52,123.74 L154.13,123.19 L154.73,122.64 L155.34,122.08 L155.94,121.53 L156.55,120.98 L157.16,120.43 L157.77,119.87 L158.39,119.32 L159.00,118.77 L159.62,118.22 L160.24,117.66 L160.86,117.11 L161.48,116.56 L162.10,116.01 L162.72,115.46 L163.35,114.91 L163.98,114.36 L164.60,113.81 L165.23,113.27 L165.87,112.72 L166.50,112.17 L167.14,111.62 L167.77,111.08 L168.41,110.53 L169.05,109.99 L169.69,109.44 L170.33,108.90 L170.98,108.36 L171.62,107.82 L172.27,107.27 L172.92,106.73 L173.57,106.19 L174.22,105.66 L174.87,105.12 L175.53,104.58 L176.19,104.04 L176.84,103.51 L177.50,102.97 L178.17,102.44 L178.83,101.90 L179.49,101.37 L180.16,100.84 L180.83,100.31 L181.49,99.78 L182.17,99.25 L182.84,98.72 L183.51,98.19 L184.19,97.66 L184.86,97.14 L185.54,96.61 L186.22,96.08 L186.90,95.56 L187.58,95.04 L188.27,94.51 L188.96,93.99 L189.64,93.47 L190.33,92.95 L191.02,92.43 L191.71,91.91 L192.41,91.39 L193.10,90.87 L193.80,90.35 L194.50,89.83 L195.20,89.31 L195.90,88.79 L196.60,88.27 L197.31,87.75 L198.01,87.23 L198.72,86.71 L199.43,86.19 L200.14,85.67 L200.85,85.15 L201.57,84.63 L202.28,84.11 L203.00,83.59 L203.72,83.06 L204.44,82.54 L205.16,82.01 L205.88,81.49 L206.61,80.96 L207.33,80.43 L208.06,79.90 L208.79,79.36 L209.52,78.83 L210.25,78.29 L210.99,77.75 L211.72,77.21 L212.46,76.66 L213.20,76.11 L213.94,75.56 L214.68,75.00 L215.42,74.44 L216.17,73.88 L216.91,73.31 L217.66,72.74 L218.41,72.17 L219.16,71.59 L219.91,71.00 L220.67,70.41 L221.42,69.81 L222.18,69.21 L222.94,68.59 L223.70,67.98 L224.46,67.35 L225.23,66.72 L225.99,66.08 L226.76,65.43 L227.52,64.78 L228.29,64.11 L229.06,63.44" fill="none" stroke="#76992f" stroke-width="1.4" stroke-dasharray="1.1 1"/>
<path d="M36.98,302.46 L36.98,302.46 L36.98,302.45 L36.98,302.44 L36.98,302.43 L36.99,302.41 L36.99,302.39 L37.00,302.37 L37.00,302.34 L37.01,302.31 L37.02,302.27 L37.03,302.23 L37.04,302.19 L37.05,302.14 L37.06,302.09 L37.07,302.04 L37.08,301.98 L37.10,301.91 L37.11,301.85 L37.13,301.78 L37.15,301.71 L37.16,301.63 L37.18,301.55 L37.20,301.46 L37.22,301.37 L37.24,301.28 L37.26,301.19 L37.28,301.09 L37.31,300.98 L37.33,300.87 L37.36,300.76 L37.38,300.65 L37.41,300.53 L37.44,300.41 L37.47,300.28 L37.50,300.15 L37.53,300.02 L37.56,299.88 L37.59,299.74 L37.62,299.60 L37.66,299.45 L37.69,299.30 L37.72,299.15 L37.76,298.99 L37.80,298.82 L37.84,298.66 L37.87,298.49 L37.91,298.32 L37.95,298.14 L38.00,297.96 L38.04,297.78 L38.08,297.59 L38.12,297.40 L38.17,297.20 L38.21,297.00 L38.26,296.80 L38.31,296.60 L38.36,296.39 L38.40,296.18 L38.45,295.96 L38.51,295.74 L38.56,295.52 L38.61,295.29 L38.66,295.06 L38.72,294.83 L38.77,294.59 L38.83,294.36 L38.88,294.11 L38.94,293.87 L39.00,293.62 L39.06,293.36 L39.12,293.10 L39.18,292.84 L39.24,292.58 L39.30,292.31 L39.37,292.04 L39.43,291.77 L39.49,291.49 L39.56,291.21 L39.63,290.93 L39.70,290.64 L39.76,290.35 L39.83,290.06 L39.90,289.76 L39.97,289.46 L40.05,289.16 L40.12,288.86 L40.19,288.55 L40.27,288.23 L40.34,287.92 L40.42,287.60 L40.49,287.28 L40.57,286.95 L40.65,286.63 L40.73,286.29 L40.81,285.96 L40.89,285.62 L40.97,285.28 L41.06,284.94 L41.14,284.59 L41.23,284.24 L41.31,283.89 L41.40,283.54 L41.48,283.18 L41.57,282.82 L41.66,282.45 L41.75,282.08 L41.84,281.71 L41.93,281.34 L42.02,280.97 L42.12,280.59 L42.21,280.21 L42.31,279.82 L42.40,279.43 L42.50,279.04 L42.60,278.65 L42.69,278.26 L42.79,277.86 L42.89,277.46 L42.99,277.05 L43.10,276.65 L43.20,276.24 L43.30,275.83 L43.41,275.41 L43.51,274.99 L43.62,274.57 L43.72,274.15 L43.83,273.73 L43.94,273.30 L44.05,272.87 L44.16,272.44 L44.27,272.00 L44.38,271.56 L44.49,271.12 L44.61,270.68 L44.72,270.23 L44.84,269.79 L44.95,269.34 L45.07,268.88 L45.19,268.43 L45.31,267.97 L45.42,267.51 L45.55,267.05 L45.67,266.58 L45.79,266.12 L45.91,265.65 L46.03,265.18 L46.16,264.70 L46.28,264.23 L46.41,263.75 L46.54,263.27 L46.67,262.78 L46.79,262.30 L46.92,261.81 L47.05,261.32 L47.19,260.83 L47.32,260.34 L47.45,259.84 L47.59,259.34 L47.72,258.84 L47.86,258.34 L47.99,257.84 L48.13,257.33 L48.27,256.82 L48.41,256.31 L48.55,255.80 L48.69,255.29 L48.83,254.77 L48.97,254.25 L49.11,253.73 L49.26,253.21 L49.40,252.68 L49.55,252.16 L49.70,251.63 L49.84,251.10 L49.99,250.57 L50.14,250.04 L50.29,249.50 L50.44,248.96 L50.59,248.43 L50.75,247.88 L50.90,247.34 L51.05,246.80 L51.21,246.25 L51.36,245.70 L51.52,245.16 L51.68,244.61 L51.84,244.05 L52.00,243.50 L52.16,242.94 L52.32,242.39 L52.48,241.83 L52.64,241.27 L52.81,240.70 L52.97,240.14 L53.14,239.57 L53.30,239.01 L53.47,238.44 L53.64,237.87 L53.81,237.30 L53.98,236.73 L54.15,236.15 L54.32,235.58 L54.49,235.00 L54.66,234.42 L54.84,233.84 L55.01,233.26 L55.19,232.68 L55.36,232.09 L55.54,231.51 L55.72,230.92 L55.90,230.33 L56.08,229.75 L56.26,229.15 L56.44,228.56 L56.62,227.97 L56.80,227.38 L56.99,226.78 L57.17,226.18 L57.36,225.59 L57.55,224.99 L57.73,224.39 L57.92,223.79 L58.11,223.18 L58.30,222.58 L58.49,221.98 L58.68,221.37 L58.88,220.76 L59.07,220.16 L59.26,219.55 L59.46,218.94 L59.65,218.33 L59.85,217.72 L60.05,217.10 L60.25,216.49 L60.45,215.87 L60.65,215.26 L60.85,214.64 L61.05,214.02 L61.25,213.41 L61.46,212.79 L61.66,212.17 L61.87,211.55 L62.07,210.92 L62.28,210.30 L62.49,209.68 L62.70,209.05 L62.90,208.43 L63.12,207.80 L63.33,207.18 L63.54,206.55 L63.75,205.92 L63.97,205.29 L64.18,204.66 L64.40,204.03 L64.61,203.40 L64.83,202.77 L65.05,202.14 L65.27,201.50 L65.49,200.87 L65.71,200.24 L65.93,199.60 L66.15,198.97 L66.37,198.33 L66.60,197.69 L66.82,197.06 L67.05,196.42 L67.27,195.78 L67.50,195.14 L67.73,194.50 L67.96,193.87 L68.19,193.23 L68.42,192.59 L68.65,191.94 L68.88,191.30 L69.12,190.66 L69.35,190.02 L69.59,189.38 L69.82,188.74 L70.06,188.09 L70.30,187.45 L70.53,186.81 L70.77,186.16 L71.01,185.52 L71.26,184.87 L71.50,184.23 L71.74,183.58 L71.98,182.94 L72.23,182.29 L72.47,181.65 L72.72,181.00 L72.97,180.36 L73.21,179.71 L73.46,179.07 L73.71,178.42 L73.96,177.77 L74.21,177.13 L74.47,176.48 L74.72,175.83 L74.97,175.19 L75.23,174.54 L75.48,173.90 L75.74,173.25 L76.00,172.60 L76.25,171.96 L76.51,171.31 L76.77,170.66 L77.03,170.02 L77.29,169.37 L77.56,168.73 L77.82,168.08 L78.08,167.43 L78.35,166.79 L78.61,166.14 L78.88,165.50 L79.15,164.85 L79.42,164.21 L79.68,163.57 L79.95,162.92 L80.23,162.28 L80.50,161.64 L80.77,160.99 L81.04,160.35 L81.32,159.71 L81.59,159.07 L81.87,158.42 L82.14,157.78 L82.42,157.14 L82.70,156.50 L82.98,155.86 L83.26,155.22 L83.54,154.59 L83.82,153.95 L84.10,153.31 L84.39,152.67 L84.67,152.04 L84.96,151.40 L85.24,150.77 L85.53,150.13 L85.82,149.50 L86.11,148.86 L86.40,148.23 L86.69,147.60 L86.98,146.97 L87.27,146.34 L87.56,145.71 L87.86,145.08 L88.15,144.45 L88.45,143.83 L88.74,143.20 L89.04,142.57 L89.34,141.95 L89.64,141.33 L89.94,140.70 L90.24,140.08 L90.54,139.46 L90.84,138.84 L91.14,138.22 L91.45,137.61 L91.75,136.99 L92.06,136.37 L92.36,135.76 L92.67,135.15 L92.98,134.53 L93.29,133.92 L93.60,133.31 L93.91,132.70 L94.22,132.09 L94.53,131.49 L94.85,130.88 L95.16,130.28 L95.47,129.68 L95.79,129.07 L96.11,128.47 L96.42,127.88 L96.74,127.28 L97.06,126.68 L97.38,126.09 L97.70,125.49 L98.03,124.90 L98.35,124.31 L98.67,123.72 L99.00,123.13 L99.32,122.55 L99.65,121.96 L99.97,121.38 L100.30,120.80 L100.63,120.22 L100.96,119.64 L101.29,119.06 L101.62,118.48 L101.95,117.91 L102.29,117.34 L102.62,116.77 L102.95,116.20 L103.29,115.63 L103.62,115.06 L103.96,114.50 L104.30,113.94 L104.64,113.37 L104.98,112.81 L105.32,112.26 L105.66,111.70 L106.00,111.15 L106.34,110.59 L106.69,110.04 L107.03,109.49 L107.38,108.95 L107.73,108.40 L108.07,107.86 L108.42,107.31 L108.77,106.77 L109.12,106.23 L109.47,105.70 L109.82,105.16 L110.17,104.63 L110.53,104.10 L110.88,103.57 L111.24,103.04 L111.59,102.51 L111.95,101.99 L112.31,101.46 L112.66,100.94 L113.02,100.42 L113.38,99.90 L113.74,99.39 L114.11,98.87 L114.47,98.36 L114.83,97.85 L115.20,97.34 L115.56,96.83 L115.93,96.33 L116.29,95.82 L116.66,95.32 L117.03,94.82 L117.40,94.32 L117.77,93.82 L118.14,93.32 L118.51,92.83 L118.88,92.33 L119.26,91.84 L119.63,91.35 L120.01,90.86 L120.38,90.37 L120.76,89.88 L121.14,89.40 L121.52,88.91 L121.90,88.43 L122.28,87.94 L122.66,87.46 L123.04,86.98 L123.42,86.50 L123.81,86.02 L124.19,85.55 L124.58,85.07 L124.96,84.59 L125.35,84.12 L125.74,83.64 L126.13,83.17 L126.52,82.69 L126.91,82.22 L127.30,81.75 L127.69,81.28 L128.09,80.80 L128.48,80.33 L128.87,79.86 L129.27,79.39 L129.67,78.91 L130.06,78.44 L130.46,77.97 L130.86,77.49 L131.26,77.02 L131.66,76.54 L132.06,76.07 L132.47,75.59 L132.87,75.12 L133.27,74.64 L133.68,74.16 L134.08,73.68 L134.49,73.19 L134.90,72.71 L135.31,72.22 L135.72,71.74 L136.13,71.25 L136.54,70.75 L136.95,70.26 L137.36,69.76 L137.78,69.26 L138.19,68.76 L138.61,68.26 L139.02,67.75 L139.44,67.24 L139.86,66.72 L140.28,66.20 L140.69,65.68 L141.12,65.15 L141.54,64.62 L141.96,64.09 L142.38,63.55 L142.81,63.00" fill="none" stroke="#4b2d7f" stroke-width="1.5"/>
<g fill="#4a7ebb"><path d="M479.00,242.80 L482.30,246.10 L479.00,249.40 L475.70,246.10Z"/></g>
<g fill="#c0433f"><rect x="476.20" y="259.50" width="5.6" height="5.6"/></g>
<g fill="#9bbb59"><path d="M479.00,275.40 L482.15,281.40 L475.85,281.40Z"/></g>
<g stroke="#7d5fa6" stroke-width="1.5" fill="none"><path d="M476.00,291.70 L482.00,297.70 M476.00,297.70 L482.00,291.70"/></g>
<path d="M465.6,310.8 H492.1" stroke="#4a86d0" stroke-width="1.5" stroke-dasharray="5.8 4.5" fill="none"/>
<path d="M465.6,327.0 H492" stroke="#9c2a27" stroke-width="1.7" stroke-dasharray="4.3 1.65" fill="none"/>
<path d="M465.6,343.3 H491.2" stroke="#6f9a2a" stroke-width="1.3" stroke-dasharray="1.5 1.5" fill="none"/>
<path d="M466,359.5 H492" stroke="#3a1f6b" stroke-width="1.3" fill="none"/>
<text x="497.7" y="249.0" textLength="23.6" lengthAdjust="spacingAndGlyphs">White</text>
<text x="497.7" y="265.2" textLength="20.4" lengthAdjust="spacingAndGlyphs">Black</text>
<text x="497.7" y="281.4" textLength="32.6" lengthAdjust="spacingAndGlyphs">Hispanic</text>
<text x="497.7" y="297.6" textLength="31" lengthAdjust="spacingAndGlyphs">Chinese</text>
<text x="497.7" y="313.8" textLength="75.5" lengthAdjust="spacingAndGlyphs">Polynomial (White)</text>
<text x="497.7" y="330.0" textLength="72" lengthAdjust="spacingAndGlyphs">Polynomial (Black)</text>
<text x="497.7" y="346.2" textLength="84.2" lengthAdjust="spacingAndGlyphs">Polynomial (Hispanic)</text>
<text x="497.7" y="362.4" textLength="82.5" lengthAdjust="spacingAndGlyphs">Polynomial (Chinese)</text>
</svg></body></html>
